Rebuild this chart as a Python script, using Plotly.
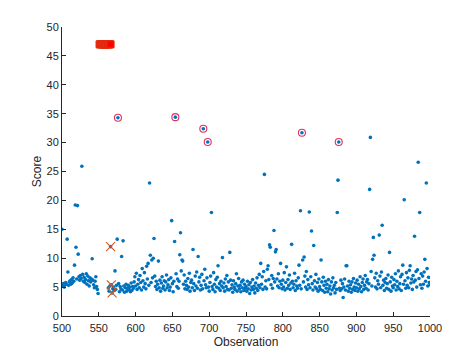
import plotly.graph_objects as go

N = None
obs_start = 500
scores = [
    15.0, 5.2, 5.6, 5.0, 5.4, 5.8, 5.5, 13.3, 7.6, 5.3,
    5.9, 6.1, 5.5, 6.3, 5.7, 6.6, 6.0, 8.8, 19.2, 11.9,
    6.4, 19.1, 10.7, 6.8, 6.2, 7.0, 6.5, 25.9, 7.2, 6.0,
    6.7, 5.8, 6.3, 7.3, 5.5, 6.9, 6.1, 5.2, 6.6, 5.9,
    6.4, 9.9, 6.2, 5.4, 4.9, 6.0, 6.8, 5.1, 4.6, 3.9,
    N, N, N, N, N, N, N, N, N, N,
    N, N, N, 4.9, 4.3, 5.2, 12.0, 5.4, 4.0, 4.7,
    5.0, 4.4, 7.8, 4.6, 5.3, 13.3, 34.3, 5.6, 4.2, 5.1,
    4.7, 10.3, 4.5, 13.0, 5.2, 4.1, 4.9, 5.5, 4.3, 4.8,
    5.3, 4.6, 5.0, 4.2, 5.7, 4.4, 5.1, 4.8, 5.9, 6.8,
    5.2, 7.4, 4.6, 5.5, 6.3, 4.9, 7.0, 5.8, 4.5, 8.2,
    6.1, 5.0, 7.5, 5.6, 4.7, 8.6, 6.4, 9.1, 5.3, 23.0,
    10.5, 5.8, 9.7, 6.6, 10.0, 13.4, 6.9, 5.1, 6.0, 4.6,
    5.5, 9.5, 4.9, 6.2, 4.3, 5.7, 6.8, 4.8, 5.2, 6.1,
    4.5, 5.9, 7.1, 4.9, 5.4, 6.3, 4.4, 5.0, 6.6, 16.5,
    5.6, 4.2, 6.0, 12.9, 34.4, 7.3, 5.1, 6.4, 4.8, 6.0,
    10.6, 14.4, 7.8, 9.7, 9.5, 5.5, 7.1, 4.7, 6.0, 5.3,
    4.6, 6.5, 5.0, 7.4, 4.3, 5.8, 6.2, 4.9, 11.5, 5.6,
    4.4, 6.9, 5.2, 7.6, 4.8, 10.3, 5.9, 6.7, 4.5, 5.3,
    7.2, 4.7, 32.4, 6.1, 8.1, 5.4, 4.9, 6.6, 30.1, 5.0,
    4.3, 5.8, 6.9, 17.9, 5.1, 4.6, 7.5, 5.5, 4.2, 6.3,
    5.0, 6.7, 8.7, 4.8, 5.6, 4.4, 6.0, 5.2, 10.1, 4.9,
    5.7, 4.3, 6.4, 5.1, 7.0, 4.6, 5.9, 4.5, 11.0, 6.2,
    4.8, 5.4, 4.1, 6.1, 5.0, 4.6, 5.6, 7.3, 4.3, 5.2,
    6.5, 4.7, 5.3, 4.2, 5.9, 4.9, 6.2, 4.4, 5.5, 4.8,
    5.1, 4.3, 6.0, 4.7, 5.4, 3.9, 5.8, 4.5, 5.0, 6.3,
    4.6, 5.2, 4.0, 5.7, 4.8, 6.6, 4.4, 5.3, 7.2, 4.9,
    9.1, 5.5, 6.8, 4.6, 7.7, 24.5, 5.0, 6.1, 4.7, 8.1,
    8.7, 6.3, 12.3, 11.9, 5.4, 7.0, 4.8, 6.5, 14.8, 5.9,
    11.1, 11.5, 6.4, 5.2, 7.3, 4.9, 6.0, 9.1, 5.5, 4.7,
    6.2, 5.0, 7.5, 4.5, 5.8, 8.5, 4.8, 6.3, 5.3, 7.1,
    4.6, 5.7, 12.4, 6.0, 4.9, 5.5, 7.4, 4.4, 6.1, 5.2,
    4.8, 6.6, 8.8, 5.3, 18.2, 4.7, 31.7, 9.7, 5.9, 10.2,
    6.9, 5.0, 7.7, 4.6, 6.3, 5.4, 18.0, 4.9, 6.8, 14.7,
    5.6, 4.5, 12.2, 6.1, 5.0, 7.2, 4.7, 5.8, 4.3, 6.4,
    5.1, 4.6, 9.7, 5.9, 4.4, 6.7, 5.3, 4.1, 6.0, 4.8,
    5.5, 4.2, 6.3, 4.7, 5.2, 3.8, 5.9, 4.5, 6.6, 4.9,
    5.3, 4.0, 5.8, 4.6, 17.9, 23.5, 30.1, 4.8, 4.4, 6.2,
    4.7, 5.6, 3.2, 5.0, 6.4, 4.5, 8.7, 8.7, 5.2, 4.3,
    6.0, 4.8, 5.4, 4.1, 5.9, 4.6, 6.5, 5.0, 4.4, 5.7,
    4.9, 6.2, 4.3, 5.5, 4.7, 6.8, 5.1, 4.2, 5.8, 6.4,
    4.6, 5.3, 7.0, 4.8, 5.9, 6.3, 4.5, 5.6, 21.9, 30.9,
    7.7, 5.2, 9.8, 13.6, 10.5, 6.6, 5.0, 7.4, 4.7, 6.1,
    5.5, 14.0, 6.9, 4.9, 7.6, 15.7, 5.3, 6.2, 4.4, 5.8,
    6.5, 4.8, 5.6, 7.1, 4.6, 11.0, 5.9, 4.3, 6.7, 5.2,
    4.9, 6.3, 5.4, 7.3, 4.5, 6.0, 5.1, 7.8, 4.7, 5.6,
    6.8, 4.4, 7.2, 8.8, 5.5, 20.1, 6.1, 4.8, 7.5, 5.3,
    6.6, 4.9, 7.9, 8.7, 5.7, 6.4, 4.6, 7.0, 5.9, 13.8,
    6.2, 7.7, 5.0, 8.0, 26.6, 6.5, 17.9, 5.4, 7.3, 4.8,
    6.9, 5.5, 7.6, 9.8, 6.0, 23.0, 8.2, 5.2, 6.7, 5.8,
    5.4,
]
observations = list(range(obs_start, obs_start + len(scores)))

circled_obs = [576, 654, 692, 698, 826, 876]
circled_scores = [34.3, 34.4, 32.4, 30.1, 31.7, 30.1]

crossed_obs = [566, 567, 568]
crossed_scores = [12.0, 5.4, 4.0]

flag_obs = list(range(551, 567))
flag_scores = [47.0] * len(flag_obs)

x_ticks = list(range(500, 1001, 50))
y_ticks = list(range(0, 51, 5))

fig = go.Figure()
fig.add_trace(go.Scatter(x=observations, y=scores, mode="markers",
                         marker=dict(color="#0072BD", size=3.6, line=dict(width=0)),
                         showlegend=False))
fig.add_trace(go.Scatter(x=circled_obs, y=circled_scores, mode="markers",
                         marker=dict(symbol="circle-open", color="#E0305A", size=7,
                                     line=dict(width=1.1)),
                         showlegend=False))
fig.add_trace(go.Scatter(x=crossed_obs, y=crossed_scores, mode="markers",
                         marker=dict(symbol="x-thin-open", color="#D95319", size=9,
                                     line=dict(width=1.1, color="#D95319")),
                         showlegend=False))
fig.add_trace(go.Scatter(x=flag_obs, y=flag_scores, mode="markers",
                         marker=dict(symbol="square", color="#FF0000", size=7,
                                     line=dict(width=1, color="#E03010")),
                         showlegend=False))

axis_font = dict(family="Liberation Sans, Arial, sans-serif", size=11, color="#262626")
title_font = dict(family=axis_font["family"], size=12, color="#262626")
fig.update_layout(
    width=474, height=355,
    margin=dict(l=62, r=44, t=27, b=39),
    paper_bgcolor="white", plot_bgcolor="white",
    font=axis_font,
)
fig.update_xaxes(range=[500, 1000], tickvals=x_ticks, ticks="inside", ticklen=4,
                 tickcolor="#262626", showline=True, linecolor="#262626", linewidth=1,
                 showgrid=False, zeroline=False, tickfont=axis_font, ticklabelstandoff=2,
                 automargin=False,
                 title=dict(text="Observation", font=title_font, standoff=4))
fig.update_yaxes(range=[0, 50], tickvals=y_ticks, ticks="inside", ticklen=4,
                 tickcolor="#262626", showline=True, linecolor="#262626", linewidth=1,
                 showgrid=False, zeroline=False, tickfont=axis_font,
                 automargin=False,
                 title=dict(text="Score", font=title_font, standoff=2))

fig.write_html("out.html")
